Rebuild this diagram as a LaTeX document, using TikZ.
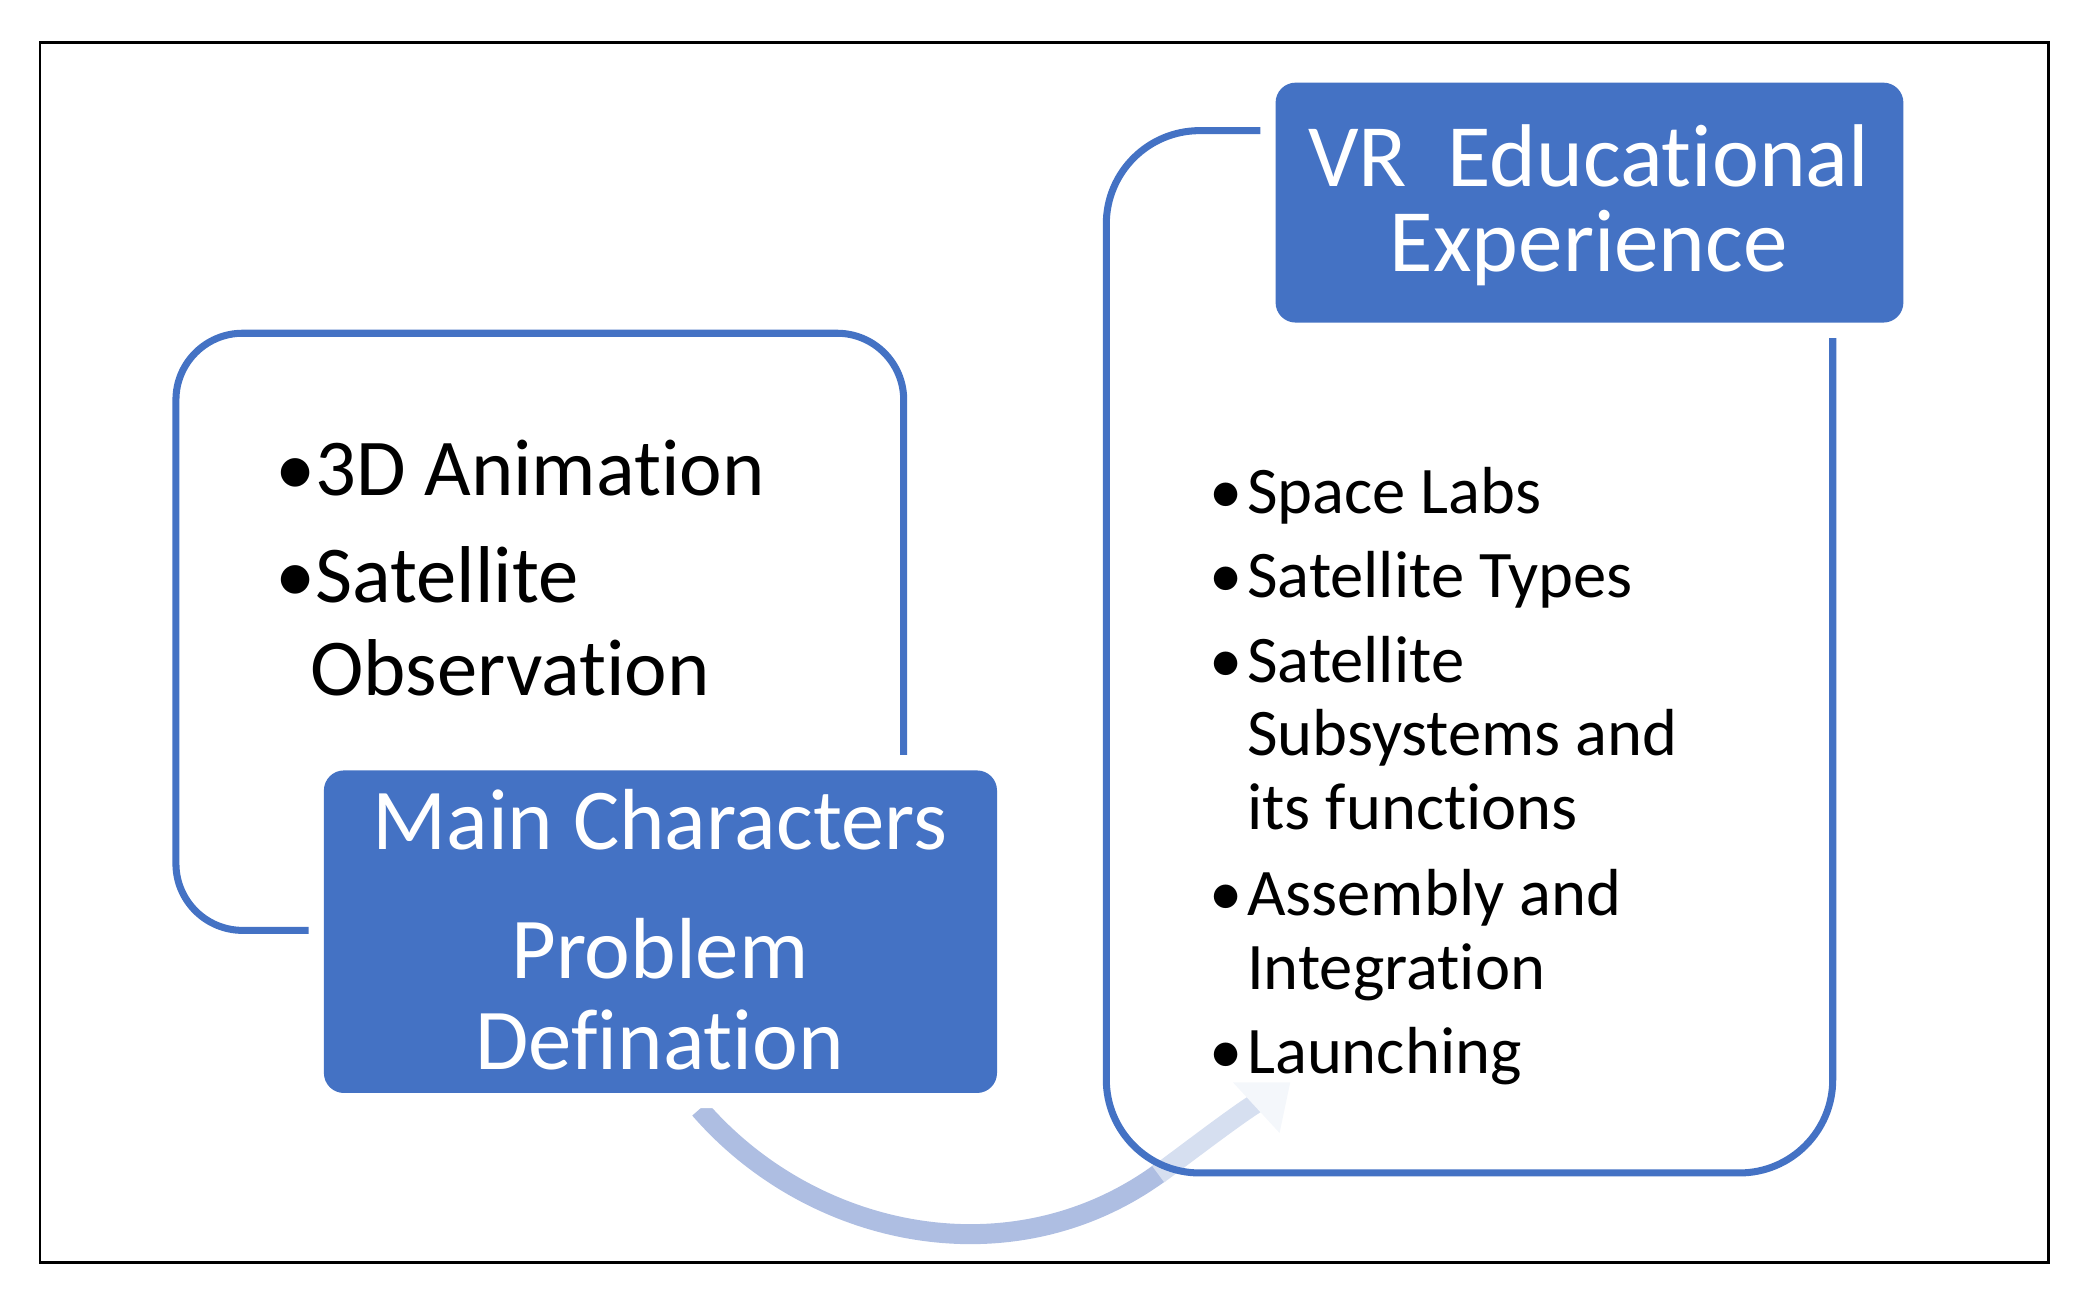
\documentclass[tikz,border=0pt]{standalone}
\usepackage{fontspec}
\setmainfont{Carlito}[RawFeature={-liga;-calt;-dlig;-clig}]
\definecolor{acc}{HTML}{4472C4}
\definecolor{arcc}{HTML}{AEBEE2}
\begin{document}
\begin{tikzpicture}[x=0.01cm,y=-0.01cm,
  frame/.style={draw=acc,line width=1.5pt},
  gap/.style={draw=white,fill=white,line width=6.5pt,rounded corners=0.15cm},
  lbl/.style={fill=acc,rounded corners=0.15cm},
  wt/.style={text=white,anchor=center,inner sep=0},
  bl/.style={anchor=base west,inner sep=0,font=\fontsize{17.2}{20}\selectfont},
  br/.style={anchor=base west,inner sep=0,font=\fontsize{14.2}{17}\selectfont}]
\useasboundingbox (0,0) rectangle (1568,978);
\draw[line width=0.6pt] (30,32) rectangle (1537,947);
% arc arrow
\coordinate (ae) at (968,812);
\draw[arcc,line width=0.15cm] (525,832) .. controls (610,930) and (760,960) .. (870,880);
\draw[arcc!50,line width=0.15cm] (869,881) .. controls (900,858) and (930,835) .. (945,826);
\fill[acc!6] (ae) -- (925,812) -- (960,850) -- cycle;
% left box
\draw[frame,rounded corners=0.5cm] (132,250) rectangle (678,698);
\draw[gap] (243,578) rectangle (748,820);
\fill[lbl] (243,578) rectangle (748,820);
\node[wt,font=\fontsize{18.5}{22}\selectfont] (m1) at (495,615) {Main Characters};
\node[wt,font=\fontsize{18.5}{22}\selectfont] (m2) at (495,712) {Problem};
\node[wt,font=\fontsize{18.5}{22}\selectfont] (m3) at (495,780) {Defination};
\node[bl] (a1) at (206,372) {•3D Animation};
\node[bl] (a2) at (206,452) {•Satellite};
\node[bl] (a3) at (232,522) {Observation};
% right box
\draw[frame,rounded corners=0.7cm] (830,98) rectangle (1375,880);
\draw[gap] (957,62) rectangle (1428,242);
\fill[lbl] (957,62) rectangle (1428,242);
\node[wt,font=\fontsize{19}{24}\selectfont] (r1) at (1192,117) {VR\ \ Educational};
\node[wt,font=\fontsize{19}{24}\selectfont] (r2) at (1192,186) {Experience};
\foreach \t/\y/\b [count=\i] in {Space Labs/385/1,Satellite Types/448/1,Satellite/512/1,Subsystems and/567/0,its functions/622/0,Assembly and/687/1,Integration/742/0,Launching/805/1}{
  \node[br] (t\i) at (935,\y) {\t};
  \ifnum\b=1 \node[br,anchor=base east] (b\i) at (933,\y) {•};\fi
}
\end{tikzpicture}
\end{document}
